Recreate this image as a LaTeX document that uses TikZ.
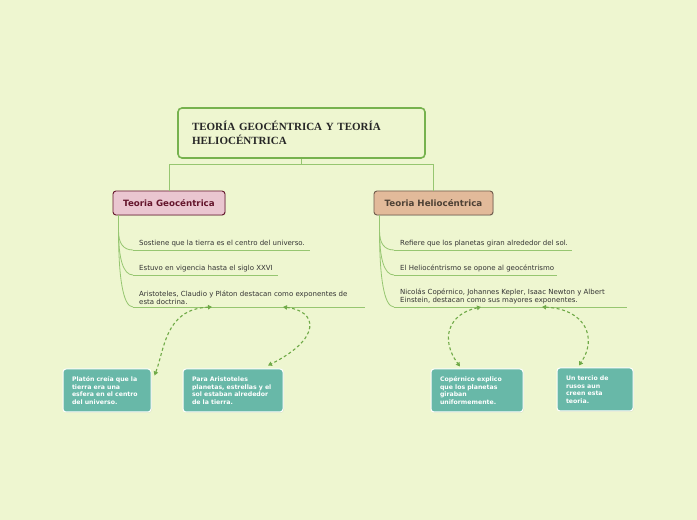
\documentclass[tikz,border=0pt]{standalone}
\usepackage{fontspec}
\newfontfamily\titlefont{Liberation Serif}
\newfontfamily\mapfont{DejaVu Sans}
\usepackage{xcolor}
\usepackage{tikz}
\usetikzlibrary{arrows.meta,positioning,calc,shadows}
\definecolor{bgcol}{RGB}{238,246,208}
\definecolor{rootcol}{RGB}{118,178,78}
\definecolor{linkcol}{RGB}{150,198,112}
\definecolor{geofill}{RGB}{234,198,208}
\definecolor{geodraw}{RGB}{100,22,44}
\definecolor{heliofill}{RGB}{226,186,154}
\definecolor{heliodraw}{RGB}{112,92,76}
\definecolor{notefill}{RGB}{104,184,168}
\definecolor{dashcol}{RGB}{112,170,72}
\tikzset{
  root/.style={rectangle, rounded corners=4pt, draw=rootcol, line width=1.6pt, fill=bgcol, text width=219pt, inner xsep=14pt, minimum height=50pt, align=left, text=black!85, font=\titlefont\bfseries\fontsize{11}{14}\selectfont},
  topic/.style={rectangle, rounded corners=3pt, draw, line width=0.9pt, minimum height=24pt, font=\mapfont\bfseries\fontsize{8.7}{10}\selectfont, drop shadow={opacity=0.2, shadow xshift=0.8pt, shadow yshift=-0.8pt}},
  geo/.style={topic, fill=geofill, draw=geodraw, text=geodraw, minimum width=112pt},
  helio/.style={topic, fill=heliofill, draw=heliodraw, text=heliodraw!70!black, minimum width=119pt},
  item/.style={anchor=south west, inner xsep=6pt, inner ysep=2.5pt, align=left, text=black!80, font=\mapfont\fontsize{7}{8}\selectfont},
  note/.style={rectangle, rounded corners=3pt, draw=white, line width=1pt, fill=notefill, text=white, align=left, inner xsep=9pt, minimum height=43pt, font=\mapfont\bfseries\fontsize{6.2}{7.6}\selectfont, drop shadow={opacity=0.15, shadow xshift=0.8pt, shadow yshift=-0.8pt}},
  link/.style={draw=linkcol, line width=0.8pt},
  uline/.style={draw=linkcol, line width=0.9pt},
  relation/.style={<->, >={Triangle[length=4pt,width=4.5pt]}, draw=dashcol, line width=1.1pt, dash pattern=on 3pt off 2.5pt}
}

\begin{document}
\begin{tikzpicture}[x=1pt,y=1pt]
  \fill[bgcol] (0,0) rectangle (697,520);
  \useasboundingbox (0,0) rectangle (697,520);

  % main topic and the two theories
  \node[root] (title) at (301.5,387) {TEORÍA GEOCÉNTRICA Y TEORÍA\\HELIOCÉNTRICA};
  \node[geo] (geo) at (169,317) {Teoria Geocéntrica};
  \node[helio] (helio) at (433.5,317) {Teoria Heliocéntrica};
  \draw[link] (title.south) -- ++(0,-6) coordinate (fork);
  \draw[link] (geo.north) |- (fork) -| (helio.north);

  % geocentric points
  \coordinate (gt) at ([xshift=6pt,yshift=-16pt]geo.south west);
  \draw[link] ([xshift=6pt]geo.south west) -- (gt);
  \foreach \i/\y/\len/\txt in {1/270/177/{Sostiene que la tierra es el centro del universo.},
      2/245/145/{Estuvo en vigencia hasta el siglo XXVI},
      3/213/232/{Aristoteles, Claudio y Pláton destacan como exponentes de\\esta doctrina.}} {
    \node[item] (g\i) at (133,\y) {\txt};
    \draw[uline] (g\i.south west) -- ++(\len,0);
    \draw[link] (gt) .. controls +(0,{-0.6*(289-\y)}) and +(-10,0) .. (g\i.south west);
  }

  % heliocentric points
  \coordinate (ht) at ([xshift=6pt,yshift=-16pt]helio.south west);
  \draw[link] ([xshift=6pt]helio.south west) -- (ht);
  \foreach \i/\y/\len/\txt in {1/270/178/{Refiere que los planetas giran alrededor del sol.},
      2/245/163/{El Heliocéntrismo se opone al geocéntrismo},
      3/213/233/{Nicolás Copérnico, Johannes Kepler, Isaac Newton y Albert\\Einstein, destacan como sus mayores exponentes.}} {
    \node[item] (h\i) at (394,\y) {\txt};
    \draw[uline] (h\i.south west) -- ++(\len,0);
    \draw[link] (ht) .. controls +(0,{-0.6*(289-\y)}) and +(-10,0) .. (h\i.south west);
  }

  % notes
  \node[note, text width=70pt] (n1) at (107,129.5) {Platón creía que la\\tierra era una\\esfera en el centro\\del universo.};
  \node[note, text width=82pt] (n2) at (233,129.5) {Para Aristoteles\\planetas, estrellas y el\\sol estaban alrededor\\de la tierra.};
  \node[note, text width=74pt] (n3) at (477,129.5) {Copérnico explico\\que los planetas\\giraban\\uniformemente.};
  \node[note, text width=58pt] (n4) at (595,130.5) {Un tercio de\\rusos aun\\creen esta\\teoria.};

  \coordinate (ga) at ($(g3.south west)+(79,0)$);
  \coordinate (gb) at ($(g3.south west)+(150,0)$);
  \coordinate (ha) at ($(h3.south west)+(87,0)$);
  \coordinate (hb) at ($(h3.south west)+(148,0)$);
  \draw[relation] (ga) .. controls +(-47,-2) and +(10,26) .. ([shift={(3,-7)}]n1.north east);
  \draw[relation] (gb) .. controls +(35,-4) and +(54,27) .. ([xshift=35pt,yshift=3pt]n2.north);
  \draw[relation] (ha) .. controls +(-33,-7) and +(-20,27) .. ([xshift=-17pt,yshift=2pt]n3.north);
  \draw[relation] (hb) .. controls +(43,-2) and +(19,28) .. ([xshift=-16pt,yshift=2pt]n4.north);
\end{tikzpicture}
\end{document}
